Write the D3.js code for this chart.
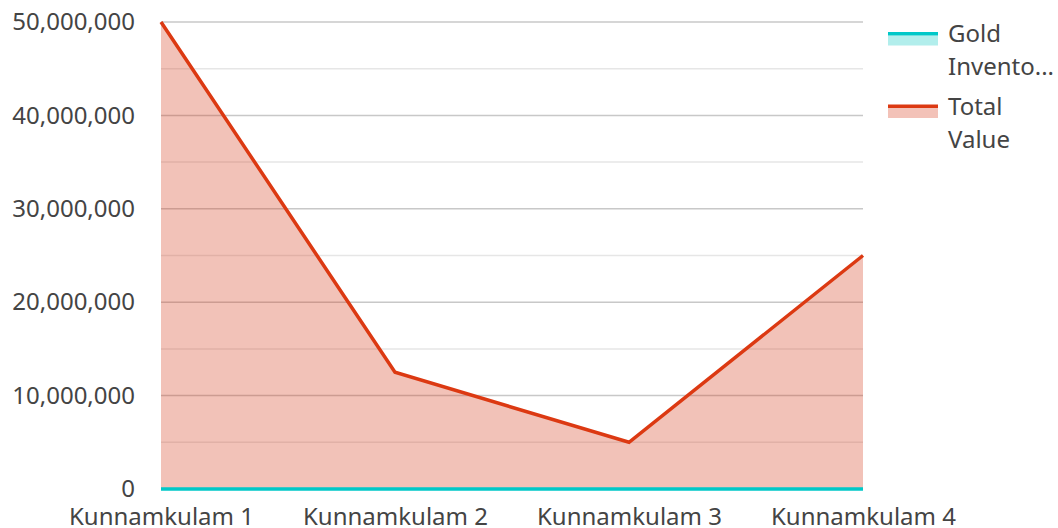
<!DOCTYPE html>
<html>
<head>
<meta charset="utf-8">
<script src="https://cdn.jsdelivr.net/npm/d3@7"></script>
<style>
  body { margin: 0; background: #fff; }
  text { font-family: "Noto Sans", "Open Sans", sans-serif; fill: #444444; }
</style>
</head>
<body>
<div id="chart"></div>
<script>
// Data
const categories = ["Kunnamkulam 1", "Kunnamkulam 2", "Kunnamkulam 3", "Kunnamkulam 4"];
const goldInventory = [1200, 300, 150, 600];
const totalValue = [50000000, 12500000, 5000000, 25000000];
const yTicks = [0, 10000000, 20000000, 30000000, 40000000, 50000000];
const yMinorTicks = [5000000, 15000000, 25000000, 35000000, 45000000];
const seriesNames = ["Gold Invento...", "Total Value"];

const width = 1058, height = 528;
const margin = { top: 22, right: 195, bottom: 39, left: 161 };
const w = width - margin.left - margin.right;
const h = height - margin.top - margin.bottom;
const fontSize = 24;

let svg = d3.select("#chart").append("svg")
  .attr("width", width)
  .attr("height", height);

let g = svg.append("g").attr("transform", `translate(${margin.left},${margin.top})`);

let xScale = d3.scalePoint().domain(categories).range([0, w]);
let yScale = d3.scaleLinear().domain([0, 50000000]).range([h, 0]);

// Gridlines
g.selectAll("line.minor").data(yMinorTicks).enter().append("line")
  .attr("class", "minor")
  .attr("x1", 0).attr("x2", w)
  .attr("y1", d => yScale(d)).attr("y2", d => yScale(d))
  .attr("stroke", "#e6e6e6").attr("stroke-width", 1.5);
g.selectAll("line.major").data(yTicks).enter().append("line")
  .attr("class", "major")
  .attr("x1", 0).attr("x2", w)
  .attr("y1", d => yScale(d)).attr("y2", d => yScale(d))
  .attr("stroke", "#c8c8c8").attr("stroke-width", 1.5);

// Total value area + line
let area = d3.area()
  .x((d, i) => xScale(categories[i]))
  .y0(yScale(0))
  .y1(d => yScale(d));
let line = d3.line()
  .x((d, i) => xScale(categories[i]))
  .y(d => yScale(d));

g.append("path").datum(totalValue)
  .attr("d", area)
  .attr("fill", "rgb(213,58,26)")
  .attr("fill-opacity", 0.31);
g.append("path").datum(totalValue)
  .attr("d", line)
  .attr("fill", "none")
  .attr("stroke", "#dc3912")
  .attr("stroke-width", 3.5);

// Gold inventory area + line
g.append("path").datum(goldInventory)
  .attr("d", area)
  .attr("fill", "#00c8c8")
  .attr("fill-opacity", 0.3);
g.append("path").datum(goldInventory)
  .attr("d", line)
  .attr("fill", "none")
  .attr("stroke", "#00c8c8")
  .attr("stroke-width", 3.5);

// Axes
let yAxis = d3.axisLeft(yScale)
  .tickValues(yTicks)
  .tickSize(0)
  .tickPadding(26)
  .tickFormat(d3.format(","));
g.append("g").call(yAxis)
  .call(s => s.select(".domain").remove())
  .selectAll("text")
  .style("font-size", fontSize + "px")
  .style("font-family", "'Noto Sans', 'Open Sans', sans-serif")
  .attr("fill", "#444444");

let xAxis = d3.axisBottom(xScale).tickSize(0).tickPadding(19);
g.append("g").attr("transform", `translate(0,${h})`).call(xAxis)
  .call(s => s.select(".domain").remove())
  .selectAll("text")
  .style("font-size", fontSize + "px")
  .style("font-family", "'Noto Sans', 'Open Sans', sans-serif")
  .attr("fill", "#444444");

// Legend
const legendColors = [
  { line: "#00c8c8", fill: "#b2eeec" },
  { line: "#dc3912", fill: "#f3c2b8" }
];
let legend = svg.append("g").attr("transform", "translate(888,0)");
seriesNames.forEach((name, i) => {
  let lg = legend.append("g").attr("transform", `translate(0,${i * 72.5})`);
  lg.append("rect").attr("x", 0).attr("y", 35.5).attr("width", 50).attr("height", 10)
    .attr("fill", legendColors[i].fill);
  lg.append("rect").attr("x", 0).attr("y", 32).attr("width", 50).attr("height", 3.5)
    .attr("fill", legendColors[i].line);
  let words = name.split(" ");
  words.forEach((wd, j) => {
    lg.append("text")
      .attr("x", 60).attr("y", 42 + j * 33.3)
      .style("font-size", fontSize + "px")
      .text(wd);
  });
});
</script>
</body>
</html>
